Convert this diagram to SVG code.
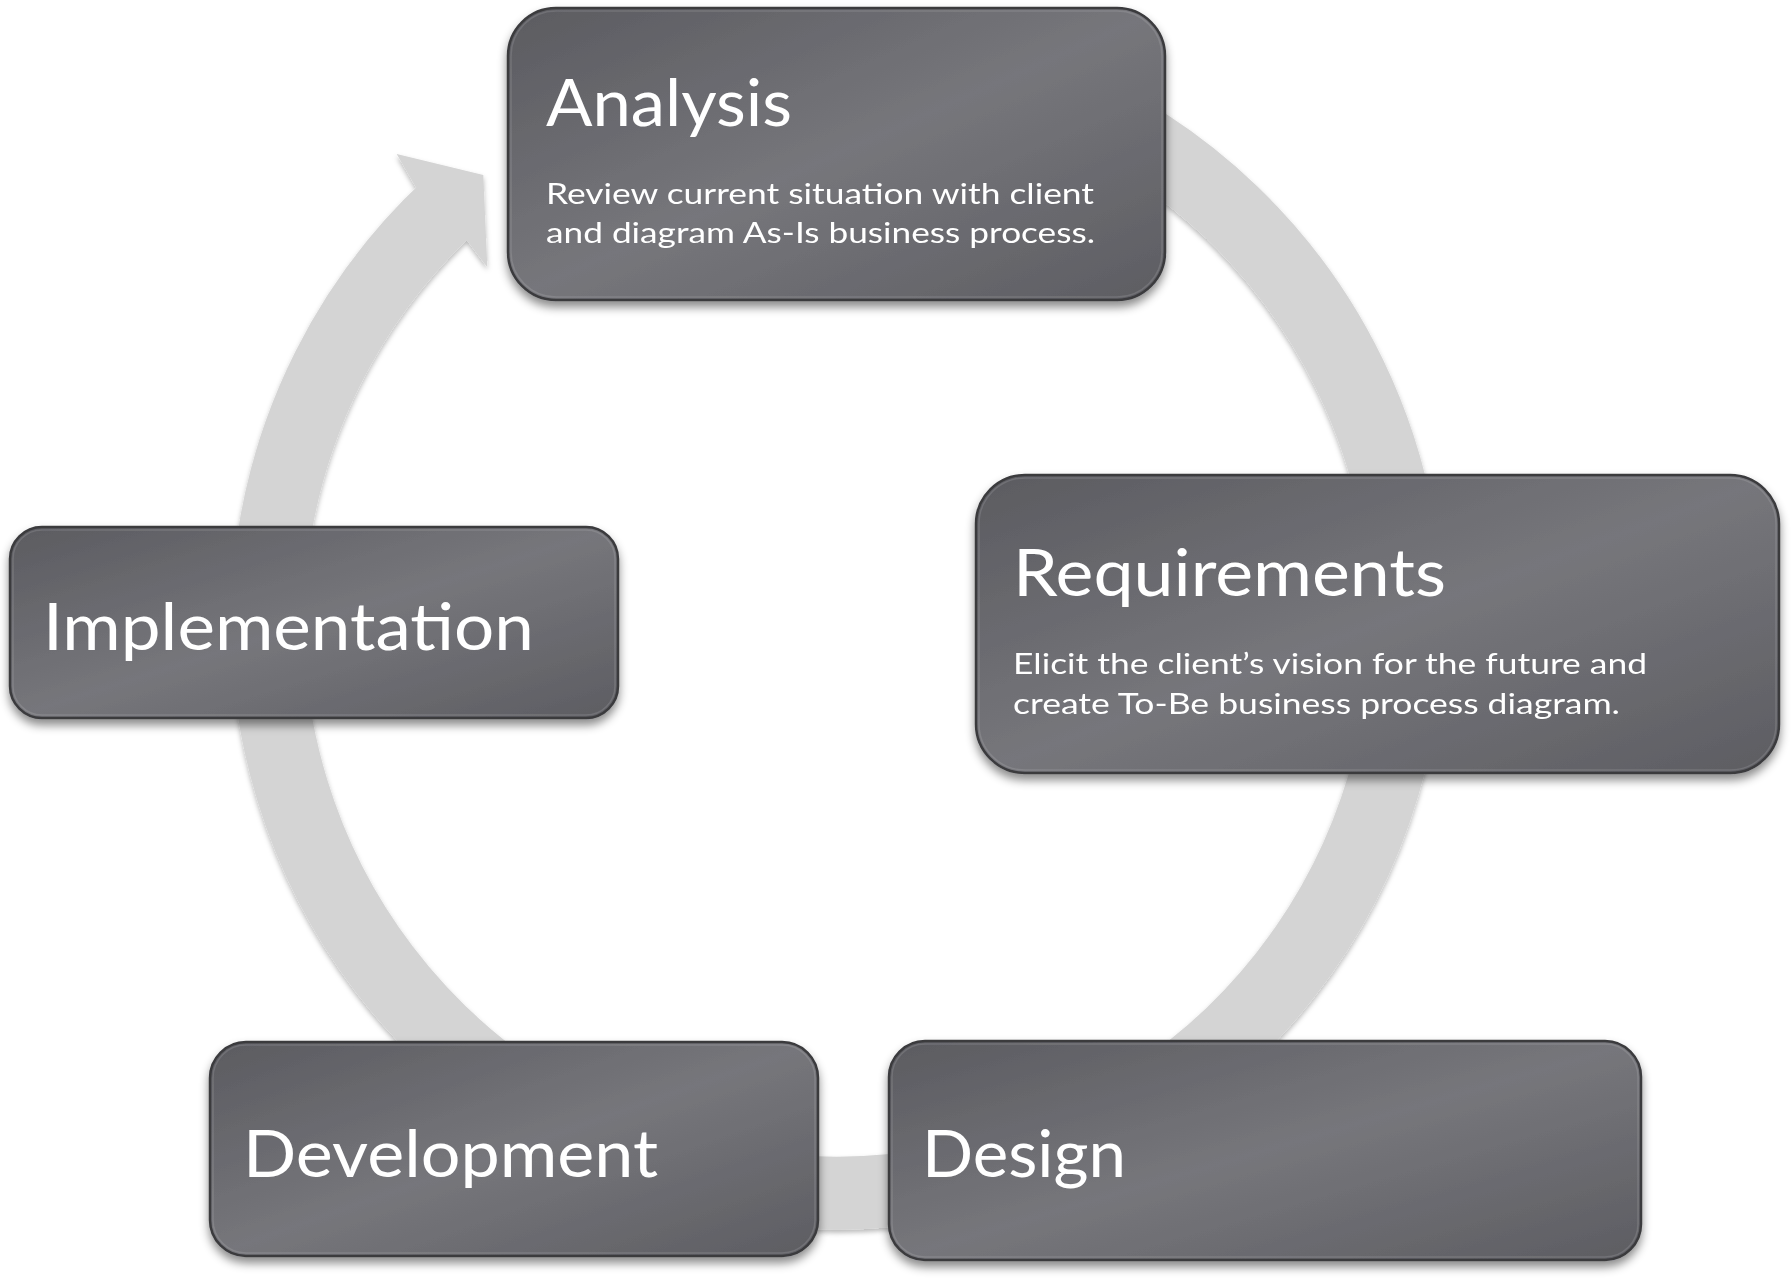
<svg xmlns="http://www.w3.org/2000/svg" width="1791" height="1280" viewBox="0 0 1791 1280">
  <defs>
    <linearGradient id="boxFill" x1="0" y1="0" x2="1" y2="1">
      <stop offset="0" stop-color="#5b5b60"/>
      <stop offset="0.5" stop-color="#76767b"/>
      <stop offset="1" stop-color="#5d5d62"/>
    </linearGradient>
    <filter id="boxShadow" x="-10%" y="-10%" width="120%" height="130%">
      <feDropShadow dx="0" dy="6" stdDeviation="5" flood-color="#000" flood-opacity="0.45"/>
    </filter>
    <filter id="ringShadow" x="-10%" y="-10%" width="120%" height="120%">
      <feDropShadow dx="0" dy="3" stdDeviation="2.5" flood-color="#000" flood-opacity="0.28"/>
    </filter>
  </defs>
  <style>
    .box { fill: url(#boxFill); stroke: #3a3a3e; stroke-width: 2.5; }
    .bevel { fill: none; stroke: #ffffff; stroke-opacity: 0.12; stroke-width: 1.5; }
    .title { font-family: Lato, "Open Sans", sans-serif; font-size: 66px; fill: #ffffff; }
    .desc { font-family: Lato, "Open Sans", sans-serif; font-size: 29px; fill: #ffffff; }
    .ring { fill: none; stroke: #d4d4d4; stroke-width: 73; stroke-linecap: butt; }
    .head { fill: #d4d4d4; }
  </style>
  <rect width="1791" height="1280" fill="#ffffff"/>

  <g id="connectors" filter="url(#ringShadow)">
    <path class="ring" d="M 642.2 88.3 A 569.5 569.5 0 0 1 1134.6 1109.1 A 569.5 569.5 0 0 1 448.6 207.0"/>
    <polygon class="head" points="416,187.6 396.7,154 483.3,175 487.3,267.3 466.7,240.1"/>
  </g>

  <g id="node-analysis" filter="url(#boxShadow)">
    <rect class="box" x="508" y="8" width="657" height="292" rx="48" ry="48"/>
    <rect class="bevel" x="511" y="11" width="651" height="286" rx="45" ry="45"/>
    <text class="title" x="546" y="126" textLength="246" lengthAdjust="spacingAndGlyphs">Analysis</text>
    <text class="desc" x="546" y="204" textLength="548" lengthAdjust="spacingAndGlyphs">Review current situation with client</text>
    <text class="desc" x="546" y="243" textLength="549" lengthAdjust="spacingAndGlyphs">and diagram As-Is business process.</text>
  </g>

  <g id="node-requirements" filter="url(#boxShadow)">
    <rect class="box" x="976" y="475" width="803" height="298" rx="49" ry="49"/>
    <rect class="bevel" x="979" y="478" width="797" height="292" rx="46" ry="46"/>
    <text class="title" x="1013" y="596" textLength="433" lengthAdjust="spacingAndGlyphs">Requirements</text>
    <text class="desc" x="1013" y="674" textLength="634" lengthAdjust="spacingAndGlyphs">Elicit the client’s vision for the future and</text>
    <text class="desc" x="1013" y="714" textLength="607" lengthAdjust="spacingAndGlyphs">create To-Be business process diagram.</text>
  </g>

  <g id="node-implementation" filter="url(#boxShadow)">
    <rect class="box" x="10" y="527" width="608" height="191" rx="32" ry="32"/>
    <rect class="bevel" x="13" y="530" width="602" height="185" rx="29" ry="29"/>
    <text class="title" x="43" y="650" textLength="491" lengthAdjust="spacingAndGlyphs">Implementation</text>
  </g>

  <g id="node-development" filter="url(#boxShadow)">
    <rect class="box" x="210" y="1042" width="608" height="214" rx="36" ry="36"/>
    <rect class="bevel" x="213" y="1045" width="602" height="208" rx="33" ry="33"/>
    <text class="title" x="243" y="1177" textLength="415" lengthAdjust="spacingAndGlyphs">Development</text>
  </g>

  <g id="node-design" filter="url(#boxShadow)">
    <rect class="box" x="889" y="1041" width="752" height="219" rx="36" ry="36"/>
    <rect class="bevel" x="892" y="1044" width="746" height="213" rx="33" ry="33"/>
    <text class="title" x="922" y="1177" textLength="204" lengthAdjust="spacingAndGlyphs">Design</text>
  </g>
</svg>
